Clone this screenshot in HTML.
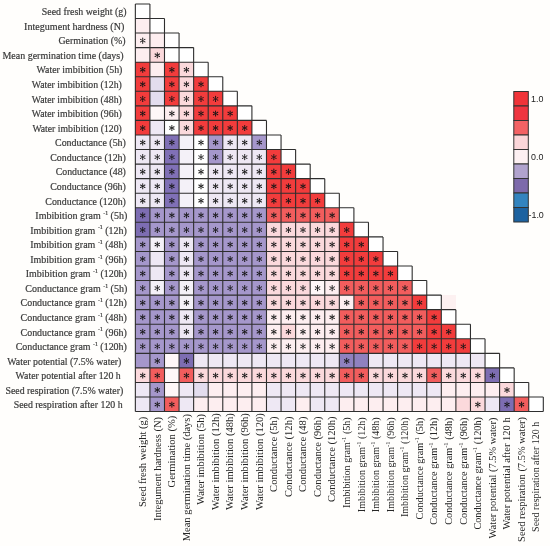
<!DOCTYPE html>
<html><head><meta charset="utf-8"><style>html,body{margin:0;padding:0;background:#fff;width:550px;height:546px;overflow:hidden}svg{display:block}</style></head>
<body><svg width="550" height="546" viewBox="0 0 550 546">
<rect width="550" height="546" fill="#FFFEFC"/>
<g shape-rendering="crispEdges"><rect x="135.35" y="3.95" width="14.57" height="14.56" fill="#FFFFFF"/><rect x="135.35" y="18.51" width="14.57" height="14.56" fill="#FDEEF0"/><rect x="149.92" y="18.51" width="14.57" height="14.56" fill="#FFFFFF"/><rect x="135.35" y="33.07" width="14.57" height="14.56" fill="#FDEEF0"/><rect x="149.92" y="33.07" width="14.57" height="14.56" fill="#FDEEF0"/><rect x="164.49" y="33.07" width="14.57" height="14.56" fill="#FFFFFF"/><rect x="135.35" y="47.62" width="14.57" height="14.56" fill="#FDEEF0"/><rect x="149.92" y="47.62" width="14.57" height="14.56" fill="#FBD9DC"/><rect x="164.49" y="47.62" width="14.57" height="14.56" fill="#FFFFFF"/><rect x="179.06" y="47.62" width="14.57" height="14.56" fill="#FFFFFF"/><rect x="135.35" y="62.18" width="14.57" height="14.56" fill="#F23C3C"/><rect x="149.92" y="62.18" width="14.57" height="14.56" fill="#FDEEF0"/><rect x="164.49" y="62.18" width="14.57" height="14.56" fill="#F23C3C"/><rect x="179.06" y="62.18" width="14.57" height="14.56" fill="#FBD9DC"/><rect x="193.63" y="62.18" width="14.57" height="14.56" fill="#FFFFFF"/><rect x="135.35" y="76.74" width="14.57" height="14.56" fill="#F23C3C"/><rect x="149.92" y="76.74" width="14.57" height="14.56" fill="#E3DDEE"/><rect x="164.49" y="76.74" width="14.57" height="14.56" fill="#F23C3C"/><rect x="179.06" y="76.74" width="14.57" height="14.56" fill="#FBD9DC"/><rect x="193.63" y="76.74" width="14.57" height="14.56" fill="#F23C3C"/><rect x="208.20" y="76.74" width="14.57" height="14.56" fill="#FFFFFF"/><rect x="135.35" y="91.30" width="14.57" height="14.56" fill="#F23C3C"/><rect x="149.92" y="91.30" width="14.57" height="14.56" fill="#E3DDEE"/><rect x="164.49" y="91.30" width="14.57" height="14.56" fill="#F23C3C"/><rect x="179.06" y="91.30" width="14.57" height="14.56" fill="#FBD9DC"/><rect x="193.63" y="91.30" width="14.57" height="14.56" fill="#F23C3C"/><rect x="208.20" y="91.30" width="14.57" height="14.56" fill="#F23C3C"/><rect x="222.77" y="91.30" width="14.57" height="14.56" fill="#FFFFFF"/><rect x="135.35" y="105.86" width="14.57" height="14.56" fill="#F23C3C"/><rect x="149.92" y="105.86" width="14.57" height="14.56" fill="#FEF7F8"/><rect x="164.49" y="105.86" width="14.57" height="14.56" fill="#FDEEF0"/><rect x="179.06" y="105.86" width="14.57" height="14.56" fill="#FBD9DC"/><rect x="193.63" y="105.86" width="14.57" height="14.56" fill="#F23C3C"/><rect x="208.20" y="105.86" width="14.57" height="14.56" fill="#F23C3C"/><rect x="222.77" y="105.86" width="14.57" height="14.56" fill="#F23C3C"/><rect x="237.34" y="105.86" width="14.57" height="14.56" fill="#FFFFFF"/><rect x="135.35" y="120.41" width="14.57" height="14.56" fill="#F23C3C"/><rect x="149.92" y="120.41" width="14.57" height="14.56" fill="#EEE8F4"/><rect x="164.49" y="120.41" width="14.57" height="14.56" fill="#FFFFFF"/><rect x="179.06" y="120.41" width="14.57" height="14.56" fill="#FBD9DC"/><rect x="193.63" y="120.41" width="14.57" height="14.56" fill="#F23C3C"/><rect x="208.20" y="120.41" width="14.57" height="14.56" fill="#F23C3C"/><rect x="222.77" y="120.41" width="14.57" height="14.56" fill="#F23C3C"/><rect x="237.34" y="120.41" width="14.57" height="14.56" fill="#F23C3C"/><rect x="251.91" y="120.41" width="14.57" height="14.56" fill="#FFFFFF"/><rect x="135.35" y="134.97" width="14.57" height="14.56" fill="#EEE8F4"/><rect x="149.92" y="134.97" width="14.57" height="14.56" fill="#EEE8F4"/><rect x="164.49" y="134.97" width="14.57" height="14.56" fill="#8070B6"/><rect x="179.06" y="134.97" width="14.57" height="14.56" fill="#F4F1F8"/><rect x="193.63" y="134.97" width="14.57" height="14.56" fill="#FFFFFF"/><rect x="208.20" y="134.97" width="14.57" height="14.56" fill="#A597CB"/><rect x="222.77" y="134.97" width="14.57" height="14.56" fill="#EEE8F4"/><rect x="237.34" y="134.97" width="14.57" height="14.56" fill="#EEE8F4"/><rect x="251.91" y="134.97" width="14.57" height="14.56" fill="#A597CB"/><rect x="266.48" y="134.97" width="14.57" height="14.56" fill="#FFFFFF"/><rect x="135.35" y="149.53" width="14.57" height="14.56" fill="#EEE8F4"/><rect x="149.92" y="149.53" width="14.57" height="14.56" fill="#EEE8F4"/><rect x="164.49" y="149.53" width="14.57" height="14.56" fill="#8070B6"/><rect x="179.06" y="149.53" width="14.57" height="14.56" fill="#F4F1F8"/><rect x="193.63" y="149.53" width="14.57" height="14.56" fill="#FFFFFF"/><rect x="208.20" y="149.53" width="14.57" height="14.56" fill="#A597CB"/><rect x="222.77" y="149.53" width="14.57" height="14.56" fill="#EEE8F4"/><rect x="237.34" y="149.53" width="14.57" height="14.56" fill="#EEE8F4"/><rect x="251.91" y="149.53" width="14.57" height="14.56" fill="#EEE8F4"/><rect x="266.48" y="149.53" width="14.57" height="14.56" fill="#F23C3C"/><rect x="281.05" y="149.53" width="14.57" height="14.56" fill="#FFFFFF"/><rect x="135.35" y="164.09" width="14.57" height="14.56" fill="#EEE8F4"/><rect x="149.92" y="164.09" width="14.57" height="14.56" fill="#EEE8F4"/><rect x="164.49" y="164.09" width="14.57" height="14.56" fill="#8070B6"/><rect x="179.06" y="164.09" width="14.57" height="14.56" fill="#F4F1F8"/><rect x="193.63" y="164.09" width="14.57" height="14.56" fill="#FFFFFF"/><rect x="208.20" y="164.09" width="14.57" height="14.56" fill="#EEE8F4"/><rect x="222.77" y="164.09" width="14.57" height="14.56" fill="#EEE8F4"/><rect x="237.34" y="164.09" width="14.57" height="14.56" fill="#EEE8F4"/><rect x="251.91" y="164.09" width="14.57" height="14.56" fill="#EEE8F4"/><rect x="266.48" y="164.09" width="14.57" height="14.56" fill="#F23C3C"/><rect x="281.05" y="164.09" width="14.57" height="14.56" fill="#F23C3C"/><rect x="295.62" y="164.09" width="14.57" height="14.56" fill="#FFFFFF"/><rect x="135.35" y="178.65" width="14.57" height="14.56" fill="#EEE8F4"/><rect x="149.92" y="178.65" width="14.57" height="14.56" fill="#EEE8F4"/><rect x="164.49" y="178.65" width="14.57" height="14.56" fill="#8070B6"/><rect x="179.06" y="178.65" width="14.57" height="14.56" fill="#F4F1F8"/><rect x="193.63" y="178.65" width="14.57" height="14.56" fill="#FFFFFF"/><rect x="208.20" y="178.65" width="14.57" height="14.56" fill="#EEE8F4"/><rect x="222.77" y="178.65" width="14.57" height="14.56" fill="#EEE8F4"/><rect x="237.34" y="178.65" width="14.57" height="14.56" fill="#EEE8F4"/><rect x="251.91" y="178.65" width="14.57" height="14.56" fill="#EEE8F4"/><rect x="266.48" y="178.65" width="14.57" height="14.56" fill="#F23C3C"/><rect x="281.05" y="178.65" width="14.57" height="14.56" fill="#F23C3C"/><rect x="295.62" y="178.65" width="14.57" height="14.56" fill="#F23C3C"/><rect x="310.19" y="178.65" width="14.57" height="14.56" fill="#FFFFFF"/><rect x="135.35" y="193.20" width="14.57" height="14.56" fill="#EEE8F4"/><rect x="149.92" y="193.20" width="14.57" height="14.56" fill="#EEE8F4"/><rect x="164.49" y="193.20" width="14.57" height="14.56" fill="#8070B6"/><rect x="179.06" y="193.20" width="14.57" height="14.56" fill="#F4F1F8"/><rect x="193.63" y="193.20" width="14.57" height="14.56" fill="#FFFFFF"/><rect x="208.20" y="193.20" width="14.57" height="14.56" fill="#EEE8F4"/><rect x="222.77" y="193.20" width="14.57" height="14.56" fill="#EEE8F4"/><rect x="237.34" y="193.20" width="14.57" height="14.56" fill="#EEE8F4"/><rect x="251.91" y="193.20" width="14.57" height="14.56" fill="#EEE8F4"/><rect x="266.48" y="193.20" width="14.57" height="14.56" fill="#F23C3C"/><rect x="281.05" y="193.20" width="14.57" height="14.56" fill="#F23C3C"/><rect x="295.62" y="193.20" width="14.57" height="14.56" fill="#F23C3C"/><rect x="310.19" y="193.20" width="14.57" height="14.56" fill="#F23C3C"/><rect x="324.76" y="193.20" width="14.57" height="14.56" fill="#FFFFFF"/><rect x="135.35" y="207.76" width="14.57" height="14.56" fill="#7D6DB2"/><rect x="149.92" y="207.76" width="14.57" height="14.56" fill="#A597CB"/><rect x="164.49" y="207.76" width="14.57" height="14.56" fill="#A597CB"/><rect x="179.06" y="207.76" width="14.57" height="14.56" fill="#A597CB"/><rect x="193.63" y="207.76" width="14.57" height="14.56" fill="#A597CB"/><rect x="208.20" y="207.76" width="14.57" height="14.56" fill="#A597CB"/><rect x="222.77" y="207.76" width="14.57" height="14.56" fill="#A597CB"/><rect x="237.34" y="207.76" width="14.57" height="14.56" fill="#A597CB"/><rect x="251.91" y="207.76" width="14.57" height="14.56" fill="#A597CB"/><rect x="266.48" y="207.76" width="14.57" height="14.56" fill="#F25D5D"/><rect x="281.05" y="207.76" width="14.57" height="14.56" fill="#F25D5D"/><rect x="295.62" y="207.76" width="14.57" height="14.56" fill="#F25D5D"/><rect x="310.19" y="207.76" width="14.57" height="14.56" fill="#F25D5D"/><rect x="324.76" y="207.76" width="14.57" height="14.56" fill="#F25D5D"/><rect x="339.33" y="207.76" width="14.57" height="14.56" fill="#FFFFFF"/><rect x="135.35" y="222.32" width="14.57" height="14.56" fill="#7D6DB2"/><rect x="149.92" y="222.32" width="14.57" height="14.56" fill="#A597CB"/><rect x="164.49" y="222.32" width="14.57" height="14.56" fill="#A597CB"/><rect x="179.06" y="222.32" width="14.57" height="14.56" fill="#A597CB"/><rect x="193.63" y="222.32" width="14.57" height="14.56" fill="#A597CB"/><rect x="208.20" y="222.32" width="14.57" height="14.56" fill="#A597CB"/><rect x="222.77" y="222.32" width="14.57" height="14.56" fill="#A597CB"/><rect x="237.34" y="222.32" width="14.57" height="14.56" fill="#A597CB"/><rect x="251.91" y="222.32" width="14.57" height="14.56" fill="#A597CB"/><rect x="266.48" y="222.32" width="14.57" height="14.56" fill="#FBD9DC"/><rect x="281.05" y="222.32" width="14.57" height="14.56" fill="#FBD9DC"/><rect x="295.62" y="222.32" width="14.57" height="14.56" fill="#FBD9DC"/><rect x="310.19" y="222.32" width="14.57" height="14.56" fill="#FBD9DC"/><rect x="324.76" y="222.32" width="14.57" height="14.56" fill="#FBD9DC"/><rect x="339.33" y="222.32" width="14.57" height="14.56" fill="#F23C3C"/><rect x="353.90" y="222.32" width="14.57" height="14.56" fill="#FFFFFF"/><rect x="135.35" y="236.88" width="14.57" height="14.56" fill="#A597CB"/><rect x="149.92" y="236.88" width="14.57" height="14.56" fill="#F4F1F8"/><rect x="164.49" y="236.88" width="14.57" height="14.56" fill="#A597CB"/><rect x="179.06" y="236.88" width="14.57" height="14.56" fill="#EEE8F4"/><rect x="193.63" y="236.88" width="14.57" height="14.56" fill="#A597CB"/><rect x="208.20" y="236.88" width="14.57" height="14.56" fill="#A597CB"/><rect x="222.77" y="236.88" width="14.57" height="14.56" fill="#A597CB"/><rect x="237.34" y="236.88" width="14.57" height="14.56" fill="#A597CB"/><rect x="251.91" y="236.88" width="14.57" height="14.56" fill="#A597CB"/><rect x="266.48" y="236.88" width="14.57" height="14.56" fill="#FBD9DC"/><rect x="281.05" y="236.88" width="14.57" height="14.56" fill="#FBD9DC"/><rect x="295.62" y="236.88" width="14.57" height="14.56" fill="#FBD9DC"/><rect x="310.19" y="236.88" width="14.57" height="14.56" fill="#FBD9DC"/><rect x="324.76" y="236.88" width="14.57" height="14.56" fill="#FBD9DC"/><rect x="339.33" y="236.88" width="14.57" height="14.56" fill="#F23C3C"/><rect x="353.90" y="236.88" width="14.57" height="14.56" fill="#F23C3C"/><rect x="368.47" y="236.88" width="14.57" height="14.56" fill="#FFFFFF"/><rect x="135.35" y="251.44" width="14.57" height="14.56" fill="#A597CB"/><rect x="149.92" y="251.44" width="14.57" height="14.56" fill="#EEE8F4"/><rect x="164.49" y="251.44" width="14.57" height="14.56" fill="#A597CB"/><rect x="179.06" y="251.44" width="14.57" height="14.56" fill="#EEE8F4"/><rect x="193.63" y="251.44" width="14.57" height="14.56" fill="#A597CB"/><rect x="208.20" y="251.44" width="14.57" height="14.56" fill="#A597CB"/><rect x="222.77" y="251.44" width="14.57" height="14.56" fill="#A597CB"/><rect x="237.34" y="251.44" width="14.57" height="14.56" fill="#A597CB"/><rect x="251.91" y="251.44" width="14.57" height="14.56" fill="#A597CB"/><rect x="266.48" y="251.44" width="14.57" height="14.56" fill="#FBD9DC"/><rect x="281.05" y="251.44" width="14.57" height="14.56" fill="#FBD9DC"/><rect x="295.62" y="251.44" width="14.57" height="14.56" fill="#FBD9DC"/><rect x="310.19" y="251.44" width="14.57" height="14.56" fill="#FBD9DC"/><rect x="324.76" y="251.44" width="14.57" height="14.56" fill="#FBD9DC"/><rect x="339.33" y="251.44" width="14.57" height="14.56" fill="#F23C3C"/><rect x="353.90" y="251.44" width="14.57" height="14.56" fill="#F23C3C"/><rect x="368.47" y="251.44" width="14.57" height="14.56" fill="#F23C3C"/><rect x="383.04" y="251.44" width="14.57" height="14.56" fill="#FFFFFF"/><rect x="135.35" y="265.99" width="14.57" height="14.56" fill="#A597CB"/><rect x="149.92" y="265.99" width="14.57" height="14.56" fill="#EEE8F4"/><rect x="164.49" y="265.99" width="14.57" height="14.56" fill="#A597CB"/><rect x="179.06" y="265.99" width="14.57" height="14.56" fill="#EEE8F4"/><rect x="193.63" y="265.99" width="14.57" height="14.56" fill="#A597CB"/><rect x="208.20" y="265.99" width="14.57" height="14.56" fill="#A597CB"/><rect x="222.77" y="265.99" width="14.57" height="14.56" fill="#A597CB"/><rect x="237.34" y="265.99" width="14.57" height="14.56" fill="#A597CB"/><rect x="251.91" y="265.99" width="14.57" height="14.56" fill="#A597CB"/><rect x="266.48" y="265.99" width="14.57" height="14.56" fill="#FBD9DC"/><rect x="281.05" y="265.99" width="14.57" height="14.56" fill="#FBD9DC"/><rect x="295.62" y="265.99" width="14.57" height="14.56" fill="#FBD9DC"/><rect x="310.19" y="265.99" width="14.57" height="14.56" fill="#FBD9DC"/><rect x="324.76" y="265.99" width="14.57" height="14.56" fill="#FBD9DC"/><rect x="339.33" y="265.99" width="14.57" height="14.56" fill="#F23C3C"/><rect x="353.90" y="265.99" width="14.57" height="14.56" fill="#F23C3C"/><rect x="368.47" y="265.99" width="14.57" height="14.56" fill="#F23C3C"/><rect x="383.04" y="265.99" width="14.57" height="14.56" fill="#F23C3C"/><rect x="397.61" y="265.99" width="14.57" height="14.56" fill="#FFFFFF"/><rect x="135.35" y="280.55" width="14.57" height="14.56" fill="#A597CB"/><rect x="149.92" y="280.55" width="14.57" height="14.56" fill="#F4F1F8"/><rect x="164.49" y="280.55" width="14.57" height="14.56" fill="#A597CB"/><rect x="179.06" y="280.55" width="14.57" height="14.56" fill="#F4F1F8"/><rect x="193.63" y="280.55" width="14.57" height="14.56" fill="#A597CB"/><rect x="208.20" y="280.55" width="14.57" height="14.56" fill="#A597CB"/><rect x="222.77" y="280.55" width="14.57" height="14.56" fill="#A597CB"/><rect x="237.34" y="280.55" width="14.57" height="14.56" fill="#A597CB"/><rect x="251.91" y="280.55" width="14.57" height="14.56" fill="#A597CB"/><rect x="266.48" y="280.55" width="14.57" height="14.56" fill="#FBD9DC"/><rect x="281.05" y="280.55" width="14.57" height="14.56" fill="#FBD9DC"/><rect x="295.62" y="280.55" width="14.57" height="14.56" fill="#FBD9DC"/><rect x="310.19" y="280.55" width="14.57" height="14.56" fill="#FEF7F8"/><rect x="324.76" y="280.55" width="14.57" height="14.56" fill="#FDEEF0"/><rect x="339.33" y="280.55" width="14.57" height="14.56" fill="#F25D5D"/><rect x="353.90" y="280.55" width="14.57" height="14.56" fill="#F25D5D"/><rect x="368.47" y="280.55" width="14.57" height="14.56" fill="#F25D5D"/><rect x="383.04" y="280.55" width="14.57" height="14.56" fill="#F25D5D"/><rect x="397.61" y="280.55" width="14.57" height="14.56" fill="#F25D5D"/><rect x="412.18" y="280.55" width="14.57" height="14.56" fill="#FFFFFF"/><rect x="135.35" y="295.11" width="14.57" height="14.56" fill="#A597CB"/><rect x="149.92" y="295.11" width="14.57" height="14.56" fill="#A597CB"/><rect x="164.49" y="295.11" width="14.57" height="14.56" fill="#A597CB"/><rect x="179.06" y="295.11" width="14.57" height="14.56" fill="#F4F1F8"/><rect x="193.63" y="295.11" width="14.57" height="14.56" fill="#A597CB"/><rect x="208.20" y="295.11" width="14.57" height="14.56" fill="#A597CB"/><rect x="222.77" y="295.11" width="14.57" height="14.56" fill="#A597CB"/><rect x="237.34" y="295.11" width="14.57" height="14.56" fill="#A597CB"/><rect x="251.91" y="295.11" width="14.57" height="14.56" fill="#A597CB"/><rect x="266.48" y="295.11" width="14.57" height="14.56" fill="#FBD9DC"/><rect x="281.05" y="295.11" width="14.57" height="14.56" fill="#FBD9DC"/><rect x="295.62" y="295.11" width="14.57" height="14.56" fill="#FBD9DC"/><rect x="310.19" y="295.11" width="14.57" height="14.56" fill="#FBD9DC"/><rect x="324.76" y="295.11" width="14.57" height="14.56" fill="#FBD9DC"/><rect x="339.33" y="295.11" width="14.57" height="14.56" fill="#FDEEF0"/><rect x="353.90" y="295.11" width="14.57" height="14.56" fill="#F25D5D"/><rect x="368.47" y="295.11" width="14.57" height="14.56" fill="#F25D5D"/><rect x="383.04" y="295.11" width="14.57" height="14.56" fill="#F25D5D"/><rect x="397.61" y="295.11" width="14.57" height="14.56" fill="#F25D5D"/><rect x="412.18" y="295.11" width="14.57" height="14.56" fill="#F23C3C"/><rect x="426.75" y="295.11" width="14.57" height="14.56" fill="#FFFFFF"/><rect x="135.35" y="309.67" width="14.57" height="14.56" fill="#A597CB"/><rect x="149.92" y="309.67" width="14.57" height="14.56" fill="#A597CB"/><rect x="164.49" y="309.67" width="14.57" height="14.56" fill="#A597CB"/><rect x="179.06" y="309.67" width="14.57" height="14.56" fill="#EEE8F4"/><rect x="193.63" y="309.67" width="14.57" height="14.56" fill="#A597CB"/><rect x="208.20" y="309.67" width="14.57" height="14.56" fill="#A597CB"/><rect x="222.77" y="309.67" width="14.57" height="14.56" fill="#A597CB"/><rect x="237.34" y="309.67" width="14.57" height="14.56" fill="#A597CB"/><rect x="251.91" y="309.67" width="14.57" height="14.56" fill="#A597CB"/><rect x="266.48" y="309.67" width="14.57" height="14.56" fill="#FDEEF0"/><rect x="281.05" y="309.67" width="14.57" height="14.56" fill="#FDEEF0"/><rect x="295.62" y="309.67" width="14.57" height="14.56" fill="#FDEEF0"/><rect x="310.19" y="309.67" width="14.57" height="14.56" fill="#FDEEF0"/><rect x="324.76" y="309.67" width="14.57" height="14.56" fill="#FDEEF0"/><rect x="339.33" y="309.67" width="14.57" height="14.56" fill="#F25D5D"/><rect x="353.90" y="309.67" width="14.57" height="14.56" fill="#F25D5D"/><rect x="368.47" y="309.67" width="14.57" height="14.56" fill="#F25D5D"/><rect x="383.04" y="309.67" width="14.57" height="14.56" fill="#F25D5D"/><rect x="397.61" y="309.67" width="14.57" height="14.56" fill="#F25D5D"/><rect x="412.18" y="309.67" width="14.57" height="14.56" fill="#F25D5D"/><rect x="426.75" y="309.67" width="14.57" height="14.56" fill="#F23C3C"/><rect x="441.32" y="309.67" width="14.57" height="14.56" fill="#FFFFFF"/><rect x="135.35" y="324.23" width="14.57" height="14.56" fill="#A597CB"/><rect x="149.92" y="324.23" width="14.57" height="14.56" fill="#A597CB"/><rect x="164.49" y="324.23" width="14.57" height="14.56" fill="#A597CB"/><rect x="179.06" y="324.23" width="14.57" height="14.56" fill="#EEE8F4"/><rect x="193.63" y="324.23" width="14.57" height="14.56" fill="#A597CB"/><rect x="208.20" y="324.23" width="14.57" height="14.56" fill="#A597CB"/><rect x="222.77" y="324.23" width="14.57" height="14.56" fill="#A597CB"/><rect x="237.34" y="324.23" width="14.57" height="14.56" fill="#A597CB"/><rect x="251.91" y="324.23" width="14.57" height="14.56" fill="#A597CB"/><rect x="266.48" y="324.23" width="14.57" height="14.56" fill="#FDEEF0"/><rect x="281.05" y="324.23" width="14.57" height="14.56" fill="#FBD9DC"/><rect x="295.62" y="324.23" width="14.57" height="14.56" fill="#FDEEF0"/><rect x="310.19" y="324.23" width="14.57" height="14.56" fill="#FDEEF0"/><rect x="324.76" y="324.23" width="14.57" height="14.56" fill="#FDEEF0"/><rect x="339.33" y="324.23" width="14.57" height="14.56" fill="#F25D5D"/><rect x="353.90" y="324.23" width="14.57" height="14.56" fill="#F25D5D"/><rect x="368.47" y="324.23" width="14.57" height="14.56" fill="#F25D5D"/><rect x="383.04" y="324.23" width="14.57" height="14.56" fill="#F25D5D"/><rect x="397.61" y="324.23" width="14.57" height="14.56" fill="#F25D5D"/><rect x="412.18" y="324.23" width="14.57" height="14.56" fill="#F25D5D"/><rect x="426.75" y="324.23" width="14.57" height="14.56" fill="#F23C3C"/><rect x="441.32" y="324.23" width="14.57" height="14.56" fill="#F23C3C"/><rect x="455.89" y="324.23" width="14.57" height="14.56" fill="#FFFFFF"/><rect x="135.35" y="338.78" width="14.57" height="14.56" fill="#A597CB"/><rect x="149.92" y="338.78" width="14.57" height="14.56" fill="#A597CB"/><rect x="164.49" y="338.78" width="14.57" height="14.56" fill="#A597CB"/><rect x="179.06" y="338.78" width="14.57" height="14.56" fill="#A597CB"/><rect x="193.63" y="338.78" width="14.57" height="14.56" fill="#A597CB"/><rect x="208.20" y="338.78" width="14.57" height="14.56" fill="#A597CB"/><rect x="222.77" y="338.78" width="14.57" height="14.56" fill="#A597CB"/><rect x="237.34" y="338.78" width="14.57" height="14.56" fill="#A597CB"/><rect x="251.91" y="338.78" width="14.57" height="14.56" fill="#A597CB"/><rect x="266.48" y="338.78" width="14.57" height="14.56" fill="#FDEEF0"/><rect x="281.05" y="338.78" width="14.57" height="14.56" fill="#FDEEF0"/><rect x="295.62" y="338.78" width="14.57" height="14.56" fill="#FDEEF0"/><rect x="310.19" y="338.78" width="14.57" height="14.56" fill="#FDEEF0"/><rect x="324.76" y="338.78" width="14.57" height="14.56" fill="#FDEEF0"/><rect x="339.33" y="338.78" width="14.57" height="14.56" fill="#F25D5D"/><rect x="353.90" y="338.78" width="14.57" height="14.56" fill="#F25D5D"/><rect x="368.47" y="338.78" width="14.57" height="14.56" fill="#F25D5D"/><rect x="383.04" y="338.78" width="14.57" height="14.56" fill="#F25D5D"/><rect x="397.61" y="338.78" width="14.57" height="14.56" fill="#F25D5D"/><rect x="412.18" y="338.78" width="14.57" height="14.56" fill="#F23C3C"/><rect x="426.75" y="338.78" width="14.57" height="14.56" fill="#F23C3C"/><rect x="441.32" y="338.78" width="14.57" height="14.56" fill="#F23C3C"/><rect x="455.89" y="338.78" width="14.57" height="14.56" fill="#F23C3C"/><rect x="470.46" y="338.78" width="14.57" height="14.56" fill="#FFFFFF"/><rect x="135.35" y="353.34" width="14.57" height="14.56" fill="#A597CB"/><rect x="149.92" y="353.34" width="14.57" height="14.56" fill="#A597CB"/><rect x="164.49" y="353.34" width="14.57" height="14.56" fill="#FEF7F8"/><rect x="179.06" y="353.34" width="14.57" height="14.56" fill="#7D6DB2"/><rect x="193.63" y="353.34" width="14.57" height="14.56" fill="#EEE8F4"/><rect x="208.20" y="353.34" width="14.57" height="14.56" fill="#EEE8F4"/><rect x="222.77" y="353.34" width="14.57" height="14.56" fill="#EEE8F4"/><rect x="237.34" y="353.34" width="14.57" height="14.56" fill="#EEE8F4"/><rect x="251.91" y="353.34" width="14.57" height="14.56" fill="#EEE8F4"/><rect x="266.48" y="353.34" width="14.57" height="14.56" fill="#EEE8F4"/><rect x="281.05" y="353.34" width="14.57" height="14.56" fill="#EEE8F4"/><rect x="295.62" y="353.34" width="14.57" height="14.56" fill="#EEE8F4"/><rect x="310.19" y="353.34" width="14.57" height="14.56" fill="#EEE8F4"/><rect x="324.76" y="353.34" width="14.57" height="14.56" fill="#EEE8F4"/><rect x="339.33" y="353.34" width="14.57" height="14.56" fill="#8F81BF"/><rect x="353.90" y="353.34" width="14.57" height="14.56" fill="#8F81BF"/><rect x="368.47" y="353.34" width="14.57" height="14.56" fill="#EEE8F4"/><rect x="383.04" y="353.34" width="14.57" height="14.56" fill="#EEE8F4"/><rect x="397.61" y="353.34" width="14.57" height="14.56" fill="#EEE8F4"/><rect x="412.18" y="353.34" width="14.57" height="14.56" fill="#EEE8F4"/><rect x="426.75" y="353.34" width="14.57" height="14.56" fill="#EEE8F4"/><rect x="441.32" y="353.34" width="14.57" height="14.56" fill="#EEE8F4"/><rect x="455.89" y="353.34" width="14.57" height="14.56" fill="#EEE8F4"/><rect x="470.46" y="353.34" width="14.57" height="14.56" fill="#EEE8F4"/><rect x="485.03" y="353.34" width="14.57" height="14.56" fill="#FFFFFF"/><rect x="135.35" y="367.90" width="14.57" height="14.56" fill="#FBD9DC"/><rect x="149.92" y="367.90" width="14.57" height="14.56" fill="#F25D5D"/><rect x="164.49" y="367.90" width="14.57" height="14.56" fill="#FEF7F8"/><rect x="179.06" y="367.90" width="14.57" height="14.56" fill="#F25D5D"/><rect x="193.63" y="367.90" width="14.57" height="14.56" fill="#FBD9DC"/><rect x="208.20" y="367.90" width="14.57" height="14.56" fill="#FBD9DC"/><rect x="222.77" y="367.90" width="14.57" height="14.56" fill="#FBD9DC"/><rect x="237.34" y="367.90" width="14.57" height="14.56" fill="#FBD9DC"/><rect x="251.91" y="367.90" width="14.57" height="14.56" fill="#FBD9DC"/><rect x="266.48" y="367.90" width="14.57" height="14.56" fill="#FBD9DC"/><rect x="281.05" y="367.90" width="14.57" height="14.56" fill="#FBD9DC"/><rect x="295.62" y="367.90" width="14.57" height="14.56" fill="#FBD9DC"/><rect x="310.19" y="367.90" width="14.57" height="14.56" fill="#FBD9DC"/><rect x="324.76" y="367.90" width="14.57" height="14.56" fill="#FBD9DC"/><rect x="339.33" y="367.90" width="14.57" height="14.56" fill="#F25D5D"/><rect x="353.90" y="367.90" width="14.57" height="14.56" fill="#F25D5D"/><rect x="368.47" y="367.90" width="14.57" height="14.56" fill="#FBD9DC"/><rect x="383.04" y="367.90" width="14.57" height="14.56" fill="#FBD9DC"/><rect x="397.61" y="367.90" width="14.57" height="14.56" fill="#FBD9DC"/><rect x="412.18" y="367.90" width="14.57" height="14.56" fill="#FBD9DC"/><rect x="426.75" y="367.90" width="14.57" height="14.56" fill="#F25D5D"/><rect x="441.32" y="367.90" width="14.57" height="14.56" fill="#FBD9DC"/><rect x="455.89" y="367.90" width="14.57" height="14.56" fill="#FBD9DC"/><rect x="470.46" y="367.90" width="14.57" height="14.56" fill="#FBD9DC"/><rect x="485.03" y="367.90" width="14.57" height="14.56" fill="#7D6DB2"/><rect x="499.60" y="367.90" width="14.57" height="14.56" fill="#FFFFFF"/><rect x="135.35" y="382.46" width="14.57" height="14.56" fill="#EEE8F4"/><rect x="149.92" y="382.46" width="14.57" height="14.56" fill="#A597CB"/><rect x="164.49" y="382.46" width="14.57" height="14.56" fill="#FEF7F8"/><rect x="179.06" y="382.46" width="14.57" height="14.56" fill="#EEE8F4"/><rect x="193.63" y="382.46" width="14.57" height="14.56" fill="#E3DDEE"/><rect x="208.20" y="382.46" width="14.57" height="14.56" fill="#FDEEF0"/><rect x="222.77" y="382.46" width="14.57" height="14.56" fill="#FDEEF0"/><rect x="237.34" y="382.46" width="14.57" height="14.56" fill="#FDEEF0"/><rect x="251.91" y="382.46" width="14.57" height="14.56" fill="#FDEEF0"/><rect x="266.48" y="382.46" width="14.57" height="14.56" fill="#EEE8F4"/><rect x="281.05" y="382.46" width="14.57" height="14.56" fill="#EEE8F4"/><rect x="295.62" y="382.46" width="14.57" height="14.56" fill="#EEE8F4"/><rect x="310.19" y="382.46" width="14.57" height="14.56" fill="#EEE8F4"/><rect x="324.76" y="382.46" width="14.57" height="14.56" fill="#EEE8F4"/><rect x="339.33" y="382.46" width="14.57" height="14.56" fill="#EEE8F4"/><rect x="353.90" y="382.46" width="14.57" height="14.56" fill="#EEE8F4"/><rect x="368.47" y="382.46" width="14.57" height="14.56" fill="#EEE8F4"/><rect x="383.04" y="382.46" width="14.57" height="14.56" fill="#EEE8F4"/><rect x="397.61" y="382.46" width="14.57" height="14.56" fill="#EEE8F4"/><rect x="412.18" y="382.46" width="14.57" height="14.56" fill="#EEE8F4"/><rect x="426.75" y="382.46" width="14.57" height="14.56" fill="#EEE8F4"/><rect x="441.32" y="382.46" width="14.57" height="14.56" fill="#FDEEF0"/><rect x="455.89" y="382.46" width="14.57" height="14.56" fill="#FDEEF0"/><rect x="470.46" y="382.46" width="14.57" height="14.56" fill="#FDEEF0"/><rect x="485.03" y="382.46" width="14.57" height="14.56" fill="#FDEEF0"/><rect x="499.60" y="382.46" width="14.57" height="14.56" fill="#FBD9DC"/><rect x="514.17" y="382.46" width="14.57" height="14.56" fill="#FFFFFF"/><rect x="135.35" y="397.02" width="14.57" height="14.56" fill="#EEE8F4"/><rect x="149.92" y="397.02" width="14.57" height="14.56" fill="#A597CB"/><rect x="164.49" y="397.02" width="14.57" height="14.56" fill="#F25D5D"/><rect x="179.06" y="397.02" width="14.57" height="14.56" fill="#EEE8F4"/><rect x="193.63" y="397.02" width="14.57" height="14.56" fill="#FDEEF0"/><rect x="208.20" y="397.02" width="14.57" height="14.56" fill="#FDEEF0"/><rect x="222.77" y="397.02" width="14.57" height="14.56" fill="#FDEEF0"/><rect x="237.34" y="397.02" width="14.57" height="14.56" fill="#FDEEF0"/><rect x="251.91" y="397.02" width="14.57" height="14.56" fill="#FDEEF0"/><rect x="266.48" y="397.02" width="14.57" height="14.56" fill="#EEE8F4"/><rect x="281.05" y="397.02" width="14.57" height="14.56" fill="#EEE8F4"/><rect x="295.62" y="397.02" width="14.57" height="14.56" fill="#FDEEF0"/><rect x="310.19" y="397.02" width="14.57" height="14.56" fill="#EEE8F4"/><rect x="324.76" y="397.02" width="14.57" height="14.56" fill="#EEE8F4"/><rect x="339.33" y="397.02" width="14.57" height="14.56" fill="#FDEEF0"/><rect x="353.90" y="397.02" width="14.57" height="14.56" fill="#FDEEF0"/><rect x="368.47" y="397.02" width="14.57" height="14.56" fill="#FDEEF0"/><rect x="383.04" y="397.02" width="14.57" height="14.56" fill="#FDEEF0"/><rect x="397.61" y="397.02" width="14.57" height="14.56" fill="#FDEEF0"/><rect x="412.18" y="397.02" width="14.57" height="14.56" fill="#FDEEF0"/><rect x="426.75" y="397.02" width="14.57" height="14.56" fill="#FDEEF0"/><rect x="441.32" y="397.02" width="14.57" height="14.56" fill="#FDEEF0"/><rect x="455.89" y="397.02" width="14.57" height="14.56" fill="#FBD9DC"/><rect x="470.46" y="397.02" width="14.57" height="14.56" fill="#FBD9DC"/><rect x="485.03" y="397.02" width="14.57" height="14.56" fill="#EEE8F4"/><rect x="499.60" y="397.02" width="14.57" height="14.56" fill="#7D6DB2"/><rect x="514.17" y="397.02" width="14.57" height="14.56" fill="#F25D5D"/><rect x="528.74" y="397.02" width="14.57" height="14.56" fill="#FFFFFF"/><rect x="442.12" y="295.11" width="13.77" height="13.76" fill="#FDF1F1"/></g>
<path d="M135.35,3.95H149.92M135.35,18.51H164.49M135.35,33.07H179.06M135.35,47.62H193.63M135.35,62.18H208.20M135.35,76.74H222.77M135.35,91.30H237.34M135.35,105.86H251.91M135.35,120.41H266.48M135.35,134.97H281.05M135.35,149.53H295.62M135.35,164.09H310.19M135.35,178.65H324.76M135.35,193.20H339.33M135.35,207.76H353.90M135.35,222.32H368.47M135.35,236.88H383.04M135.35,251.44H397.61M135.35,265.99H412.18M135.35,280.55H426.75M135.35,295.11H441.32M135.35,309.67H455.89M135.35,324.23H470.46M135.35,338.78H485.03M135.35,353.34H499.60M135.35,367.90H514.17M135.35,382.46H528.74M135.35,397.02H543.31M135.35,411.57H543.31M135.35,3.95V411.57M149.92,3.95V411.57M164.49,18.51V411.57M179.06,33.07V411.57M193.63,47.62V411.57M208.20,62.18V411.57M222.77,76.74V411.57M237.34,91.30V411.57M251.91,105.86V411.57M266.48,120.41V411.57M281.05,134.97V411.57M295.62,149.53V411.57M310.19,164.09V411.57M324.76,178.65V411.57M339.33,193.20V411.57M353.90,207.76V411.57M368.47,222.32V411.57M383.04,236.88V411.57M397.61,251.44V411.57M412.18,265.99V411.57M426.75,280.55V411.57M441.32,295.11V411.57M455.89,309.67V411.57M470.46,324.23V411.57M485.03,338.78V411.57M499.60,353.34V411.57M514.17,367.90V411.57M528.74,382.46V411.57M543.31,397.02V411.57" stroke="#2e2e2e" stroke-width="1.1" fill="none"/>
<defs><path id="st" d="M0.25,0.00L0.55,-2.50A0.55,0.55 0 0 0 -0.55,-2.50L-0.25,-0.00ZM0.12,0.22L2.44,-0.77A0.55,0.55 0 0 0 1.89,-1.73L-0.12,-0.22ZM0.12,-0.22L-1.89,-1.73A0.55,0.55 0 0 0 -2.44,-0.77L-0.12,0.22ZM-0.13,-0.22L-2.44,0.77A0.55,0.55 0 0 0 -1.89,1.73L0.13,0.22ZM-0.25,-0.00L-0.55,2.50A0.55,0.55 0 0 0 0.55,2.50L0.25,0.00ZM-0.13,0.22L1.89,1.73A0.55,0.55 0 0 0 2.44,0.77L0.13,-0.22ZM-0.75,0.00a0.75,0.75 0 1 0 1.5,0a0.75,0.75 0 1 0 -1.5,0Z"/></defs><g fill="#151515"><use href="#st" x="142.73" y="40.64"/><use href="#st" x="157.30" y="55.20"/><use href="#st" x="142.73" y="69.76"/><use href="#st" x="171.88" y="69.76"/><use href="#st" x="186.44" y="69.76"/><use href="#st" x="142.73" y="84.32"/><use href="#st" x="171.88" y="84.32"/><use href="#st" x="186.44" y="84.32"/><use href="#st" x="201.01" y="84.32"/><use href="#st" x="142.73" y="98.88"/><use href="#st" x="171.88" y="98.88"/><use href="#st" x="186.44" y="98.88"/><use href="#st" x="201.01" y="98.88"/><use href="#st" x="215.58" y="98.88"/><use href="#st" x="142.73" y="113.44"/><use href="#st" x="171.88" y="113.44"/><use href="#st" x="186.44" y="113.44"/><use href="#st" x="201.01" y="113.44"/><use href="#st" x="215.58" y="113.44"/><use href="#st" x="230.15" y="113.44"/><use href="#st" x="142.73" y="127.99"/><use href="#st" x="171.88" y="127.99"/><use href="#st" x="186.44" y="127.99"/><use href="#st" x="201.01" y="127.99"/><use href="#st" x="215.58" y="127.99"/><use href="#st" x="230.15" y="127.99"/><use href="#st" x="244.72" y="127.99"/><use href="#st" x="142.73" y="142.55"/><use href="#st" x="157.30" y="142.55"/><use href="#st" x="171.88" y="142.55"/><use href="#st" x="201.01" y="142.55"/><use href="#st" x="215.58" y="142.55"/><use href="#st" x="230.15" y="142.55"/><use href="#st" x="244.72" y="142.55"/><use href="#st" x="259.30" y="142.55"/><use href="#st" x="142.73" y="157.11"/><use href="#st" x="157.30" y="157.11"/><use href="#st" x="171.88" y="157.11"/><use href="#st" x="201.01" y="157.11"/><use href="#st" x="215.58" y="157.11"/><use href="#st" x="230.15" y="157.11"/><use href="#st" x="244.72" y="157.11"/><use href="#st" x="259.30" y="157.11"/><use href="#st" x="273.87" y="157.11"/><use href="#st" x="142.73" y="171.67"/><use href="#st" x="157.30" y="171.67"/><use href="#st" x="171.88" y="171.67"/><use href="#st" x="201.01" y="171.67"/><use href="#st" x="215.58" y="171.67"/><use href="#st" x="230.15" y="171.67"/><use href="#st" x="244.72" y="171.67"/><use href="#st" x="259.30" y="171.67"/><use href="#st" x="273.87" y="171.67"/><use href="#st" x="288.44" y="171.67"/><use href="#st" x="142.73" y="186.22"/><use href="#st" x="157.30" y="186.22"/><use href="#st" x="171.88" y="186.22"/><use href="#st" x="201.01" y="186.22"/><use href="#st" x="215.58" y="186.22"/><use href="#st" x="230.15" y="186.22"/><use href="#st" x="244.72" y="186.22"/><use href="#st" x="259.30" y="186.22"/><use href="#st" x="273.87" y="186.22"/><use href="#st" x="288.44" y="186.22"/><use href="#st" x="303.01" y="186.22"/><use href="#st" x="142.73" y="200.78"/><use href="#st" x="157.30" y="200.78"/><use href="#st" x="171.88" y="200.78"/><use href="#st" x="201.01" y="200.78"/><use href="#st" x="215.58" y="200.78"/><use href="#st" x="230.15" y="200.78"/><use href="#st" x="244.72" y="200.78"/><use href="#st" x="259.30" y="200.78"/><use href="#st" x="273.87" y="200.78"/><use href="#st" x="288.44" y="200.78"/><use href="#st" x="303.01" y="200.78"/><use href="#st" x="317.58" y="200.78"/><use href="#st" x="142.73" y="215.34"/><use href="#st" x="157.30" y="215.34"/><use href="#st" x="171.88" y="215.34"/><use href="#st" x="186.44" y="215.34"/><use href="#st" x="201.01" y="215.34"/><use href="#st" x="215.58" y="215.34"/><use href="#st" x="230.15" y="215.34"/><use href="#st" x="244.72" y="215.34"/><use href="#st" x="259.30" y="215.34"/><use href="#st" x="273.87" y="215.34"/><use href="#st" x="288.44" y="215.34"/><use href="#st" x="303.01" y="215.34"/><use href="#st" x="317.58" y="215.34"/><use href="#st" x="332.15" y="215.34"/><use href="#st" x="142.73" y="229.90"/><use href="#st" x="157.30" y="229.90"/><use href="#st" x="171.88" y="229.90"/><use href="#st" x="186.44" y="229.90"/><use href="#st" x="201.01" y="229.90"/><use href="#st" x="215.58" y="229.90"/><use href="#st" x="230.15" y="229.90"/><use href="#st" x="244.72" y="229.90"/><use href="#st" x="259.30" y="229.90"/><use href="#st" x="273.87" y="229.90"/><use href="#st" x="288.44" y="229.90"/><use href="#st" x="303.01" y="229.90"/><use href="#st" x="317.58" y="229.90"/><use href="#st" x="332.15" y="229.90"/><use href="#st" x="346.72" y="229.90"/><use href="#st" x="142.73" y="244.46"/><use href="#st" x="157.30" y="244.46"/><use href="#st" x="171.88" y="244.46"/><use href="#st" x="186.44" y="244.46"/><use href="#st" x="201.01" y="244.46"/><use href="#st" x="215.58" y="244.46"/><use href="#st" x="230.15" y="244.46"/><use href="#st" x="244.72" y="244.46"/><use href="#st" x="259.30" y="244.46"/><use href="#st" x="273.87" y="244.46"/><use href="#st" x="288.44" y="244.46"/><use href="#st" x="303.01" y="244.46"/><use href="#st" x="317.58" y="244.46"/><use href="#st" x="332.15" y="244.46"/><use href="#st" x="346.72" y="244.46"/><use href="#st" x="361.29" y="244.46"/><use href="#st" x="142.73" y="259.01"/><use href="#st" x="171.88" y="259.01"/><use href="#st" x="186.44" y="259.01"/><use href="#st" x="201.01" y="259.01"/><use href="#st" x="215.58" y="259.01"/><use href="#st" x="230.15" y="259.01"/><use href="#st" x="244.72" y="259.01"/><use href="#st" x="259.30" y="259.01"/><use href="#st" x="273.87" y="259.01"/><use href="#st" x="288.44" y="259.01"/><use href="#st" x="303.01" y="259.01"/><use href="#st" x="317.58" y="259.01"/><use href="#st" x="332.15" y="259.01"/><use href="#st" x="346.72" y="259.01"/><use href="#st" x="361.29" y="259.01"/><use href="#st" x="375.86" y="259.01"/><use href="#st" x="142.73" y="273.57"/><use href="#st" x="171.88" y="273.57"/><use href="#st" x="186.44" y="273.57"/><use href="#st" x="201.01" y="273.57"/><use href="#st" x="215.58" y="273.57"/><use href="#st" x="230.15" y="273.57"/><use href="#st" x="244.72" y="273.57"/><use href="#st" x="259.30" y="273.57"/><use href="#st" x="273.87" y="273.57"/><use href="#st" x="288.44" y="273.57"/><use href="#st" x="303.01" y="273.57"/><use href="#st" x="317.58" y="273.57"/><use href="#st" x="332.15" y="273.57"/><use href="#st" x="346.72" y="273.57"/><use href="#st" x="361.29" y="273.57"/><use href="#st" x="375.86" y="273.57"/><use href="#st" x="390.43" y="273.57"/><use href="#st" x="142.73" y="288.13"/><use href="#st" x="157.30" y="288.13"/><use href="#st" x="171.88" y="288.13"/><use href="#st" x="186.44" y="288.13"/><use href="#st" x="201.01" y="288.13"/><use href="#st" x="215.58" y="288.13"/><use href="#st" x="230.15" y="288.13"/><use href="#st" x="244.72" y="288.13"/><use href="#st" x="259.30" y="288.13"/><use href="#st" x="273.87" y="288.13"/><use href="#st" x="288.44" y="288.13"/><use href="#st" x="303.01" y="288.13"/><use href="#st" x="317.58" y="288.13"/><use href="#st" x="332.15" y="288.13"/><use href="#st" x="346.72" y="288.13"/><use href="#st" x="361.29" y="288.13"/><use href="#st" x="375.86" y="288.13"/><use href="#st" x="390.43" y="288.13"/><use href="#st" x="405.00" y="288.13"/><use href="#st" x="142.73" y="302.69"/><use href="#st" x="157.30" y="302.69"/><use href="#st" x="171.88" y="302.69"/><use href="#st" x="186.44" y="302.69"/><use href="#st" x="201.01" y="302.69"/><use href="#st" x="215.58" y="302.69"/><use href="#st" x="230.15" y="302.69"/><use href="#st" x="244.72" y="302.69"/><use href="#st" x="259.30" y="302.69"/><use href="#st" x="273.87" y="302.69"/><use href="#st" x="288.44" y="302.69"/><use href="#st" x="303.01" y="302.69"/><use href="#st" x="317.58" y="302.69"/><use href="#st" x="332.15" y="302.69"/><use href="#st" x="346.72" y="302.69"/><use href="#st" x="361.29" y="302.69"/><use href="#st" x="375.86" y="302.69"/><use href="#st" x="390.43" y="302.69"/><use href="#st" x="405.00" y="302.69"/><use href="#st" x="419.56" y="302.69"/><use href="#st" x="142.73" y="317.25"/><use href="#st" x="157.30" y="317.25"/><use href="#st" x="171.88" y="317.25"/><use href="#st" x="186.44" y="317.25"/><use href="#st" x="201.01" y="317.25"/><use href="#st" x="215.58" y="317.25"/><use href="#st" x="230.15" y="317.25"/><use href="#st" x="244.72" y="317.25"/><use href="#st" x="259.30" y="317.25"/><use href="#st" x="273.87" y="317.25"/><use href="#st" x="288.44" y="317.25"/><use href="#st" x="303.01" y="317.25"/><use href="#st" x="317.58" y="317.25"/><use href="#st" x="332.15" y="317.25"/><use href="#st" x="346.72" y="317.25"/><use href="#st" x="361.29" y="317.25"/><use href="#st" x="375.86" y="317.25"/><use href="#st" x="390.43" y="317.25"/><use href="#st" x="405.00" y="317.25"/><use href="#st" x="419.56" y="317.25"/><use href="#st" x="434.14" y="317.25"/><use href="#st" x="142.73" y="331.81"/><use href="#st" x="157.30" y="331.81"/><use href="#st" x="171.88" y="331.81"/><use href="#st" x="186.44" y="331.81"/><use href="#st" x="201.01" y="331.81"/><use href="#st" x="215.58" y="331.81"/><use href="#st" x="230.15" y="331.81"/><use href="#st" x="244.72" y="331.81"/><use href="#st" x="259.30" y="331.81"/><use href="#st" x="273.87" y="331.81"/><use href="#st" x="288.44" y="331.81"/><use href="#st" x="303.01" y="331.81"/><use href="#st" x="317.58" y="331.81"/><use href="#st" x="332.15" y="331.81"/><use href="#st" x="346.72" y="331.81"/><use href="#st" x="361.29" y="331.81"/><use href="#st" x="375.86" y="331.81"/><use href="#st" x="390.43" y="331.81"/><use href="#st" x="405.00" y="331.81"/><use href="#st" x="419.56" y="331.81"/><use href="#st" x="434.14" y="331.81"/><use href="#st" x="448.71" y="331.81"/><use href="#st" x="142.73" y="346.36"/><use href="#st" x="157.30" y="346.36"/><use href="#st" x="171.88" y="346.36"/><use href="#st" x="186.44" y="346.36"/><use href="#st" x="201.01" y="346.36"/><use href="#st" x="215.58" y="346.36"/><use href="#st" x="230.15" y="346.36"/><use href="#st" x="244.72" y="346.36"/><use href="#st" x="259.30" y="346.36"/><use href="#st" x="273.87" y="346.36"/><use href="#st" x="288.44" y="346.36"/><use href="#st" x="303.01" y="346.36"/><use href="#st" x="317.58" y="346.36"/><use href="#st" x="332.15" y="346.36"/><use href="#st" x="346.72" y="346.36"/><use href="#st" x="361.29" y="346.36"/><use href="#st" x="375.86" y="346.36"/><use href="#st" x="390.43" y="346.36"/><use href="#st" x="405.00" y="346.36"/><use href="#st" x="419.56" y="346.36"/><use href="#st" x="434.14" y="346.36"/><use href="#st" x="448.71" y="346.36"/><use href="#st" x="463.28" y="346.36"/><use href="#st" x="157.30" y="360.92"/><use href="#st" x="186.44" y="360.92"/><use href="#st" x="346.72" y="360.92"/><use href="#st" x="142.73" y="375.48"/><use href="#st" x="157.30" y="375.48"/><use href="#st" x="186.44" y="375.48"/><use href="#st" x="201.01" y="375.48"/><use href="#st" x="215.58" y="375.48"/><use href="#st" x="230.15" y="375.48"/><use href="#st" x="244.72" y="375.48"/><use href="#st" x="259.30" y="375.48"/><use href="#st" x="273.87" y="375.48"/><use href="#st" x="288.44" y="375.48"/><use href="#st" x="303.01" y="375.48"/><use href="#st" x="317.58" y="375.48"/><use href="#st" x="332.15" y="375.48"/><use href="#st" x="346.72" y="375.48"/><use href="#st" x="361.29" y="375.48"/><use href="#st" x="375.86" y="375.48"/><use href="#st" x="390.43" y="375.48"/><use href="#st" x="405.00" y="375.48"/><use href="#st" x="419.56" y="375.48"/><use href="#st" x="434.14" y="375.48"/><use href="#st" x="448.71" y="375.48"/><use href="#st" x="463.28" y="375.48"/><use href="#st" x="477.85" y="375.48"/><use href="#st" x="492.42" y="375.48"/><use href="#st" x="157.30" y="390.04"/><use href="#st" x="506.99" y="390.04"/><use href="#st" x="157.30" y="404.59"/><use href="#st" x="171.88" y="404.59"/><use href="#st" x="477.85" y="404.59"/><use href="#st" x="506.99" y="404.59"/><use href="#st" x="521.55" y="404.59"/></g>
<g font-family="Liberation Serif, serif" font-size="10" fill="#3a3a3a" stroke="#3a3a3a" stroke-width="0.2" style="filter:grayscale(1)"><text x="41.75" y="15.23" textLength="84.75" lengthAdjust="spacingAndGlyphs">Seed fresh weight (g)</text><text x="24.10" y="29.79" textLength="100.20" lengthAdjust="spacingAndGlyphs">Integument hardness (N)</text><text x="58.40" y="44.35" textLength="67.20" lengthAdjust="spacingAndGlyphs">Germination (%)</text><text x="2.50" y="58.92" textLength="121.00" lengthAdjust="spacingAndGlyphs">Mean germination time (days)</text><text x="36.60" y="73.48" textLength="85.80" lengthAdjust="spacingAndGlyphs">Water imbibition (5h)</text><text x="31.75" y="88.04" textLength="90.05" lengthAdjust="spacingAndGlyphs">Water imbibition (12h)</text><text x="31.75" y="102.61" textLength="90.05" lengthAdjust="spacingAndGlyphs">Water imbibition (48h)</text><text x="31.75" y="117.17" textLength="90.05" lengthAdjust="spacingAndGlyphs">Water imbibition (96h)</text><text x="32.40" y="131.73" textLength="89.40" lengthAdjust="spacingAndGlyphs">Water imbibition (120)</text><text x="55.00" y="146.30" textLength="70.90" lengthAdjust="spacingAndGlyphs">Conductance (5h)</text><text x="50.20" y="160.86" textLength="75.70" lengthAdjust="spacingAndGlyphs">Conductance (12h)</text><text x="55.70" y="175.42" textLength="70.20" lengthAdjust="spacingAndGlyphs">Conductance (48)</text><text x="50.20" y="189.98" textLength="75.70" lengthAdjust="spacingAndGlyphs">Conductance (96h)</text><text x="45.30" y="204.55" textLength="80.60" lengthAdjust="spacingAndGlyphs">Conductance (120h)</text><text x="35.30" y="219.11" textLength="92.00" lengthAdjust="spacingAndGlyphs">Imbibition gram <tspan font-size="5.8" dy="-4.2">-1</tspan><tspan dy="4.2"> (5h)</tspan></text><text x="30.20" y="233.67" textLength="96.70" lengthAdjust="spacingAndGlyphs">Imbibition gram <tspan font-size="5.8" dy="-4.2">-1</tspan><tspan dy="4.2"> (12h)</tspan></text><text x="30.20" y="248.24" textLength="96.70" lengthAdjust="spacingAndGlyphs">Imbibition gram <tspan font-size="5.8" dy="-4.2">-1</tspan><tspan dy="4.2"> (48h)</tspan></text><text x="30.20" y="262.80" textLength="96.70" lengthAdjust="spacingAndGlyphs">Imbibition gram <tspan font-size="5.8" dy="-4.2">-1</tspan><tspan dy="4.2"> (96h)</tspan></text><text x="25.70" y="277.36" textLength="101.20" lengthAdjust="spacingAndGlyphs">Imbibition gram <tspan font-size="5.8" dy="-4.2">-1</tspan><tspan dy="4.2"> (120h)</tspan></text><text x="25.30" y="291.93" textLength="102.00" lengthAdjust="spacingAndGlyphs">Conductance gram <tspan font-size="5.8" dy="-4.2">-1</tspan><tspan dy="4.2"> (5h)</tspan></text><text x="20.50" y="306.49" textLength="106.40" lengthAdjust="spacingAndGlyphs">Conductance gram <tspan font-size="5.8" dy="-4.2">-1</tspan><tspan dy="4.2"> (12h)</tspan></text><text x="20.50" y="321.05" textLength="106.40" lengthAdjust="spacingAndGlyphs">Conductance gram <tspan font-size="5.8" dy="-4.2">-1</tspan><tspan dy="4.2"> (48h)</tspan></text><text x="20.50" y="335.62" textLength="106.40" lengthAdjust="spacingAndGlyphs">Conductance gram <tspan font-size="5.8" dy="-4.2">-1</tspan><tspan dy="4.2"> (96h)</tspan></text><text x="15.70" y="350.18" textLength="111.20" lengthAdjust="spacingAndGlyphs">Conductance gram <tspan font-size="5.8" dy="-4.2">-1</tspan><tspan dy="4.2"> (120h)</tspan></text><text x="7.30" y="364.74" textLength="114.10" lengthAdjust="spacingAndGlyphs">Water potential (7.5% water)</text><text x="15.60" y="379.30" textLength="105.20" lengthAdjust="spacingAndGlyphs">Water potential after 120 h</text><text x="5.40" y="393.87" textLength="117.90" lengthAdjust="spacingAndGlyphs">Seed respiration (7.5% water)</text><text x="13.70" y="408.43" textLength="109.00" lengthAdjust="spacingAndGlyphs">Seed respiration after 120 h</text></g>
<g font-family="Liberation Serif, serif" font-size="10.4" fill="#262626" style="filter:grayscale(1)"><text transform="translate(146.03,507.10) rotate(-90)" textLength="90.50" lengthAdjust="spacingAndGlyphs">Seed fresh weight (g)</text><text transform="translate(160.60,521.00) rotate(-90)" textLength="104.00" lengthAdjust="spacingAndGlyphs">Integument hardness (N)</text><text transform="translate(175.18,487.40) rotate(-90)" textLength="71.60" lengthAdjust="spacingAndGlyphs">Germination (%)</text><text transform="translate(189.75,541.30) rotate(-90)" textLength="127.20" lengthAdjust="spacingAndGlyphs">Mean germination time (days)</text><text transform="translate(204.31,504.80) rotate(-90)" textLength="90.70" lengthAdjust="spacingAndGlyphs">Water imbibition (5h)</text><text transform="translate(218.88,510.00) rotate(-90)" textLength="96.80" lengthAdjust="spacingAndGlyphs">Water imbibition (12h)</text><text transform="translate(233.45,510.00) rotate(-90)" textLength="96.80" lengthAdjust="spacingAndGlyphs">Water imbibition (48h)</text><text transform="translate(248.03,510.00) rotate(-90)" textLength="96.80" lengthAdjust="spacingAndGlyphs">Water imbibition (96h)</text><text transform="translate(262.59,510.00) rotate(-90)" textLength="96.80" lengthAdjust="spacingAndGlyphs">Water imbibition (120)</text><text transform="translate(277.17,491.90) rotate(-90)" textLength="75.30" lengthAdjust="spacingAndGlyphs">Conductance (5h)</text><text transform="translate(291.73,496.90) rotate(-90)" textLength="80.30" lengthAdjust="spacingAndGlyphs">Conductance (12h)</text><text transform="translate(306.31,491.90) rotate(-90)" textLength="75.30" lengthAdjust="spacingAndGlyphs">Conductance (48)</text><text transform="translate(320.88,496.90) rotate(-90)" textLength="80.30" lengthAdjust="spacingAndGlyphs">Conductance (96h)</text><text transform="translate(335.44,502.00) rotate(-90)" textLength="85.40" lengthAdjust="spacingAndGlyphs">Conductance (120h)</text><text transform="translate(350.02,507.90) rotate(-90)" textLength="90.60" lengthAdjust="spacingAndGlyphs">Imbibition gram<tspan font-size="6.8" dy="-4">-1</tspan><tspan dy="4"> (5h)</tspan></text><text transform="translate(364.58,512.20) rotate(-90)" textLength="94.90" lengthAdjust="spacingAndGlyphs">Imbibition gram<tspan font-size="6.8" dy="-4">-1</tspan><tspan dy="4"> (12h)</tspan></text><text transform="translate(379.16,512.20) rotate(-90)" textLength="94.90" lengthAdjust="spacingAndGlyphs">Imbibition gram<tspan font-size="6.8" dy="-4">-1</tspan><tspan dy="4"> (48h)</tspan></text><text transform="translate(393.72,512.20) rotate(-90)" textLength="94.90" lengthAdjust="spacingAndGlyphs">Imbibition gram<tspan font-size="6.8" dy="-4">-1</tspan><tspan dy="4"> (96h)</tspan></text><text transform="translate(408.30,517.10) rotate(-90)" textLength="99.80" lengthAdjust="spacingAndGlyphs">Imbibition gram<tspan font-size="6.8" dy="-4">-1</tspan><tspan dy="4"> (120h)</tspan></text><text transform="translate(422.86,519.40) rotate(-90)" textLength="101.80" lengthAdjust="spacingAndGlyphs">Conductance gram<tspan font-size="6.8" dy="-4">-1</tspan><tspan dy="4"> (5h)</tspan></text><text transform="translate(437.44,524.70) rotate(-90)" textLength="107.10" lengthAdjust="spacingAndGlyphs">Conductance gram<tspan font-size="6.8" dy="-4">-1</tspan><tspan dy="4"> (12h)</tspan></text><text transform="translate(452.01,524.70) rotate(-90)" textLength="107.10" lengthAdjust="spacingAndGlyphs">Conductance gram<tspan font-size="6.8" dy="-4">-1</tspan><tspan dy="4"> (48h)</tspan></text><text transform="translate(466.57,524.70) rotate(-90)" textLength="107.10" lengthAdjust="spacingAndGlyphs">Conductance gram<tspan font-size="6.8" dy="-4">-1</tspan><tspan dy="4"> (96h)</tspan></text><text transform="translate(481.15,529.60) rotate(-90)" textLength="112.60" lengthAdjust="spacingAndGlyphs">Conductance gram<tspan font-size="6.8" dy="-4">-1</tspan><tspan dy="4"> (120h)</tspan></text><text transform="translate(495.71,538.40) rotate(-90)" textLength="120.80" lengthAdjust="spacingAndGlyphs">Water potential (7.5% water)</text><text transform="translate(510.29,529.60) rotate(-90)" textLength="112.30" lengthAdjust="spacingAndGlyphs">Water potential after 120 h</text><text transform="translate(524.85,541.90) rotate(-90)" textLength="124.90" lengthAdjust="spacingAndGlyphs">Seed respiration (7.5% water)</text><text transform="translate(539.42,531.90) rotate(-90)" textLength="110.20" lengthAdjust="spacingAndGlyphs">Seed respiration after 120 h</text></g>
<rect x="513.8" y="91.50" width="14.5" height="14.5" fill="#F03439" stroke="#333" stroke-width="1"/><rect x="513.8" y="106.00" width="14.5" height="14.5" fill="#EF3540" stroke="#333" stroke-width="1"/><rect x="513.8" y="120.50" width="14.5" height="14.5" fill="#F36264" stroke="#333" stroke-width="1"/><rect x="513.8" y="135.00" width="14.5" height="14.5" fill="#FBD6D9" stroke="#333" stroke-width="1"/><rect x="513.8" y="149.50" width="14.5" height="14.5" fill="#FDF0F2" stroke="#333" stroke-width="1"/><rect x="513.8" y="164.00" width="14.5" height="14.5" fill="#B1A3CE" stroke="#333" stroke-width="1"/><rect x="513.8" y="178.50" width="14.5" height="14.5" fill="#7D6AAB" stroke="#333" stroke-width="1"/><rect x="513.8" y="193.00" width="14.5" height="14.5" fill="#3384BF" stroke="#333" stroke-width="1"/><rect x="513.8" y="207.50" width="14.5" height="14.5" fill="#1D62A0" stroke="#333" stroke-width="1"/>
<g font-family="Liberation Sans, sans-serif" font-size="8.9" fill="#222" style="filter:grayscale(1)"><text x="531" y="101.75">1.0</text><text x="531" y="159.75">0.0</text><text x="528.5" y="217.75">-1.0</text></g>
</svg></body></html>
